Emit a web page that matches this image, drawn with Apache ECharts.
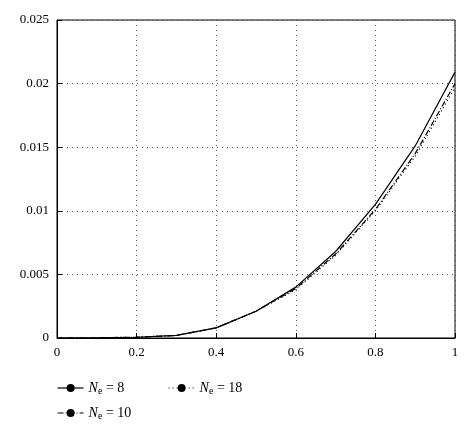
<!DOCTYPE html><html><head><meta charset="utf-8"><script src="https://cdn.jsdelivr.net/npm/echarts@6/dist/echarts.min.js"></script></head><body style="margin:0"><div id="c" style="width:474px;height:443px"></div><script>
var xs=[0,0.1,0.2,0.3,0.4,0.5,0.6,0.7,0.8,0.9,1];
var ne8=[0,0.00002,0.00006,0.0002,0.0008,0.0021,0.0040,0.0068,0.0105,0.0151,0.0209];
var ne10=[0,0.00002,0.00006,0.0002,0.0008,0.0021,0.0039,0.0066,0.0101,0.0145,0.0200];
var ne18=[0,0.00002,0.00006,0.0002,0.0008,0.0021,0.0038,0.0065,0.0100,0.0143,0.0197];
var labels={Ne8:'8',Ne10:'10',Ne18:'18'};
var styles={Ne8:'solid',Ne10:[6,2,1,2],Ne18:[1,3]};
var F='Liberation Serif';
function mk(n,arr){return {name:n,type:'line',data:xs.map(function(x,i){return [x,arr[i]];}),symbol:'none',lineStyle:{color:'#000',width:1.2,type:styles[n]},itemStyle:{color:'#000'}};}
function lg(n,l,t){return {data:[n],left:l,top:t,itemWidth:26,itemHeight:10,
 lineStyle:{color:'#000',width:1.2,type:styles[n]},
 formatter:function(nm){return '{i|N}{s|e}{t| = '+labels[nm]+'}';},
 textStyle:{color:'#000',rich:{i:{color:'#000',fontFamily:F,fontStyle:'italic',fontSize:14},s:{color:'#000',fontFamily:F,fontSize:10,verticalAlign:'bottom',padding:[7,0,0,0]},t:{color:'#000',fontFamily:F,fontSize:14}}}};}
var ch=echarts.init(document.getElementById('c'));
ch.setOption({animation:false,
grid:{left:57,right:19,top:20,bottom:105},
legend:[lg('Ne8',52,376),lg('Ne18',163,376),lg('Ne10',52,401)],
xAxis:{type:'value',min:0,max:1,interval:0.2,axisLine:{lineStyle:{color:'#000'}},axisTick:{inside:true,lineStyle:{color:'#000'}},
 axisLabel:{color:'#000',fontFamily:F,fontSize:13,formatter:function(v){return String(+v.toFixed(1));}},
 splitLine:{lineStyle:{color:'#555',type:[1,4]}}},
yAxis:{type:'value',min:0,max:0.025,interval:0.005,axisLine:{lineStyle:{color:'#000'}},axisTick:{inside:true,lineStyle:{color:'#000'}},
 axisLabel:{color:'#000',fontFamily:F,fontSize:13,formatter:function(v){return String(+v.toFixed(3));}},
 splitLine:{lineStyle:{color:'#555',type:[1,4]}}},
series:[mk('Ne8',ne8),mk('Ne10',ne10),mk('Ne18',ne18)],
graphic:[{type:'rect',shape:{x:57,y:20,width:398,height:318},style:{fill:'none',stroke:'#000',lineWidth:1},silent:true}]
});
</script></body></html>
